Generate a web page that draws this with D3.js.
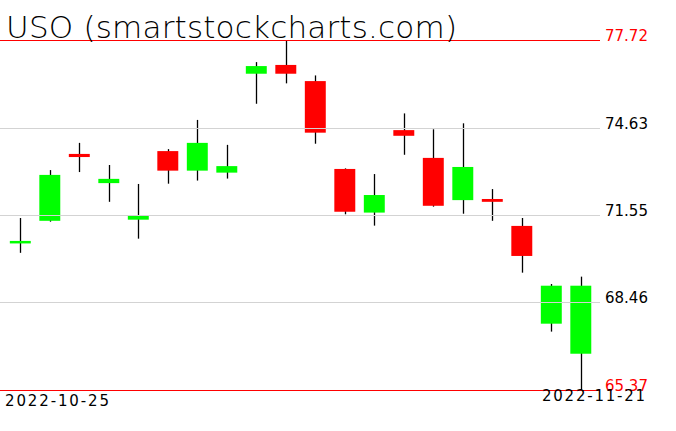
<!DOCTYPE html>
<head>
  <meta charset="utf-8">
  <script src="https://d3js.org/d3.v7.min.js"></script>
  <style>
    body { margin:0; background:#fff; }
    svg { display:block; }
    text { font-family: "DejaVu Sans", sans-serif; }
  </style>
</head>
<body>
<script type='text/javascript'>
  // daily candles
  var dates = ["2022-10-25","2022-10-26","2022-10-27","2022-10-28","2022-10-31",
               "2022-11-01","2022-11-02","2022-11-03","2022-11-04","2022-11-07",
               "2022-11-08","2022-11-09","2022-11-10","2022-11-11","2022-11-14",
               "2022-11-15","2022-11-16","2022-11-17","2022-11-18","2022-11-21"];
  var open  = [70.56, 71.34, 73.70, 72.67, 71.38, 73.80, 73.11, 73.04, 76.53, 76.84,
               76.27, 73.17, 71.63, 74.54, 73.56, 72.07, 72.11, 71.16, 67.71, 66.65];
  var high  = [71.44, 73.13, 74.09, 73.31, 72.64, 73.87, 74.90, 74.02, 76.94, 77.72,
               76.47, 73.19, 72.99, 75.13, 74.57, 74.78, 72.46, 71.44, 69.11, 69.37];
  var low   = [70.21, 71.31, 73.06, 72.01, 70.71, 72.65, 72.76, 72.83, 75.47, 76.19,
               74.06, 71.57, 71.17, 73.67, 71.84, 71.59, 71.34, 69.51, 67.43, 65.37];
  var close = [70.63, 72.96, 73.59, 72.82, 71.52, 73.11, 74.09, 73.27, 76.80, 76.53,
               74.45, 71.66, 72.25, 74.34, 71.87, 73.24, 72.01, 70.10, 69.05, 69.05];
  var priceTicks = [77.72, 74.63, 71.55, 68.46, 65.37];
  var title = "USO (smartstockcharts.com)";

  var width = 676, height = 431;
  var minP = d3.min(priceTicks), maxP = d3.max(priceTicks);

  var svg = d3.select('body').append('svg')
    .attr('width', width).attr('height', height);

  var x = d3.scalePoint().domain(dates).range([5.55, 595.55]).padding(0.5);
  var y = d3.scaleLinear().domain([minP, maxP]).range([390, 40]);
  var bodyW = x.step() * 0.71;

  var candles = dates.map(function(d, i) {
    return { date: d, o: open[i], h: high[i], l: low[i], c: close[i] };
  });

  // wicks
  svg.append('g').selectAll('line').data(candles).enter().append('line')
    .attr('x1', d => Math.round(x(d.date)) + 0.5)
    .attr('x2', d => Math.round(x(d.date)) + 0.5)
    .attr('y1', d => y(d.h))
    .attr('y2', d => y(d.l))
    .attr('stroke', '#000')
    .attr('stroke-width', 1.3);

  // bodies
  svg.append('g').selectAll('rect').data(candles).enter().append('rect')
    .attr('x', d => x(d.date) - bodyW / 2)
    .attr('width', bodyW)
    .attr('y', d => y(Math.max(d.o, d.c)))
    .attr('height', d => Math.max(2.5, Math.abs(y(d.o) - y(d.c))))
    .attr('fill', d => d.c >= d.o ? '#00ff00' : '#ff0000');

  // price grid + labels on the right
  var axis = svg.append('g')
    .attr('transform', 'translate(600,0)')
    .call(d3.axisLeft(y).tickValues(priceTicks).tickSize(600).tickFormat(''));
  axis.select('.domain').remove();
  axis.selectAll('.tick line')
    .attr('stroke', d => (d === minP || d === maxP) ? '#ff0000' : '#d3d3d3')
    .attr('stroke-width', 1)
    .attr('shape-rendering', 'crispEdges');

  svg.append('g').selectAll('text').data(priceTicks).enter().append('text')
    .attr('x', 605)
    .attr('y', d => y(d) + 1)
    .attr('font-size', 15)
    .attr('fill', d => (d === minP || d === maxP) ? '#ff0000' : '#000')
    .text(d => d.toFixed(2));

  // first / last date
  svg.append('text')
    .attr('x', 5).attr('y', 406)
    .attr('font-size', 15)
    .attr('textLength', 104).attr('lengthAdjust', 'spacing')
    .text(dates[0]);
  svg.append('text')
    .attr('x', 542).attr('y', 401)
    .attr('font-size', 15)
    .attr('textLength', 103).attr('lengthAdjust', 'spacing')
    .text(dates[dates.length - 1]);

  svg.append('text')
    .attr('x', 6).attr('y', 38)
    .attr('font-size', 31)
    .attr('font-weight', 200)
    .attr('textLength', 451).attr('lengthAdjust', 'spacing')
    .text(title);
</script>
</body>
